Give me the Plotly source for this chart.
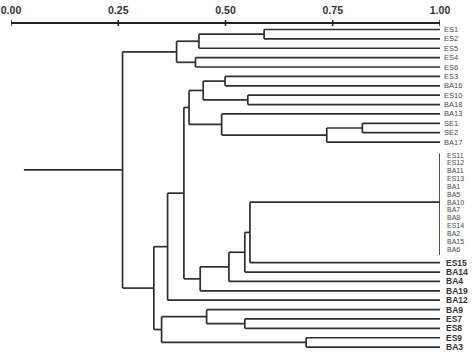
import plotly.graph_objects as go

# ---------------- data ----------------
top_leaves = ["ES1", "ES2", "ES5", "ES4", "ES6", "ES3", "BA16", "ES10",
              "BA18", "BA13", "SE1", "SE2", "BA17"]
identical_leaves = ["ES11", "ES12", "BA11", "ES13", "BA1", "BA5", "BA10",
                    "BA7", "BA8", "ES14", "BA2", "BA15", "BA6"]
bottom_leaves = ["ES15", "BA14", "BA4", "BA19", "BA12", "BA9", "ES7",
                 "ES8", "ES9", "BA3"]

# (node, left child, right child, similarity at merge)
merges = [
    ("A", "ES1", "ES2", 0.590),
    ("B", "A", "ES5", 0.438),
    ("C", "ES4", "ES6", 0.430),
    ("D", "B", "C", 0.386),
    ("E", "ES3", "BA16", 0.499),
    ("F", "ES10", "BA18", 0.552),
    ("G", "E", "F", 0.448),
    ("H", "SE1", "SE2", 0.819),
    ("I", "H", "BA17", 0.736),
    ("J", "BA13", "I", 0.491),
    ("K", "G", "J", 0.415),
    ("L", "IDENT", "ES15", 0.557),
    ("M", "L", "BA14", 0.545),
    ("N", "M", "BA4", 0.508),
    ("O", "N", "BA19", 0.441),
    ("P", "K", "O", 0.403),
    ("Q", "P", "BA12", 0.365),
    ("R", "ES7", "ES8", 0.545),
    ("S", "BA9", "R", 0.456),
    ("T", "ES9", "BA3", 0.688),
    ("U", "S", "T", 0.351),
    ("V", "Q", "U", 0.333),
    ("W", "D", "V", 0.260),
]
identical_sim = 1.00
root_start = 0.03

tick_vals = [0.00, 0.25, 0.50, 0.75, 1.00]
tick_text = ["0.00", "0.25", "0.50", "0.75", "1.00"]

# ---------------- layout of leaves (vertical positions) ----------------
ypos = {}
height = {}
for i, name in enumerate(top_leaves):
    ypos[name] = float(i)
    height[name] = 1.0
start_ident = ypos[top_leaves[-1]] + 1.38
ident_step = 0.8375
for j, name in enumerate(identical_leaves):
    ypos[name] = start_ident + j * ident_step
last_ident = ypos[identical_leaves[-1]]
ypos["IDENT"] = (ypos[identical_leaves[0]] + last_ident) / 2
height["IDENT"] = identical_sim
for k, name in enumerate(bottom_leaves):
    ypos[name] = last_ident + 1.43 + k
    height[name] = 1.0

xs, ys = [], []


def seg(x0, y0, x1, y1):
    xs.extend([x0, x1, None])
    ys.extend([y0, y1, None])


# bar of identical isolates
seg(identical_sim, ypos[identical_leaves[0]] - 0.18, identical_sim, last_ident + 0.61)

for node, left, right, sim in merges:
    ypos[node] = (ypos[left] + ypos[right]) / 2
    height[node] = sim
    seg(sim, ypos[left], sim, ypos[right])
    for child in (left, right):
        seg(sim, ypos[child], height[child], ypos[child])

root = merges[-1][0]
seg(root_start, ypos[root], height[root], ypos[root])

fig = go.Figure()
fig.add_trace(go.Scatter(
    x=xs, y=ys, mode="lines",
    line=dict(color="#2e2e2e", width=1.7),
    hoverinfo="skip", showlegend=False,
))

FONT = "Arial, 'Liberation Sans', sans-serif"
annotations = []
for name in top_leaves:
    annotations.append(dict(x=1.0, y=ypos[name], xref="x", yref="y", text=name,
                            showarrow=False, xanchor="left", yanchor="middle", xshift=2,
                            font=dict(family=FONT, size=7.5, color="#4a4a4a")))
for name in identical_leaves:
    annotations.append(dict(x=1.0, y=ypos[name], xref="x", yref="y", text=name,
                            showarrow=False, xanchor="left", yanchor="middle", xshift=5,
                            font=dict(family=FONT, size=7, color="#4a4a4a")))
for name in bottom_leaves:
    annotations.append(dict(x=1.0, y=ypos[name], xref="x", yref="y", text="<b>" + name + "</b>",
                            showarrow=False, xanchor="left", yanchor="middle", xshift=4,
                            font=dict(family=FONT, size=8.5, color="#333333")))

unit = 9.38
first_px = 29.5
top_margin = 20

# scale bar (axis line + tick marks) drawn just above the first leaf
bar_y = ypos[top_leaves[0]] - 6.5 / unit
shapes = [dict(type="line", xref="x", yref="y", x0=0, x1=1, y0=bar_y, y1=bar_y,
               line=dict(color="#222222", width=2))]
for tv in tick_vals:
    shapes.append(dict(type="line", xref="x", yref="y", ysizemode="pixel", yanchor=bar_y,
                       x0=tv, x1=tv, y0=-3, y1=3,
                       line=dict(color="#222222", width=1.5)))

fig.update_layout(
    width=474, height=358,
    margin=dict(l=11, r=34, t=top_margin, b=0, autoexpand=False),
    paper_bgcolor="white", plot_bgcolor="white",
    annotations=annotations,
    shapes=shapes,
    xaxis=dict(
        range=[0, 1], side="top", automargin=False,
        showline=False,
        ticks="outside", ticklen=1, tickcolor="rgba(0,0,0,0)",
        tickvals=tick_vals, ticktext=["<b>" + t + "</b>" for t in tick_text],
        tickfont=dict(family=FONT, size=10.5, color="#333333"),
        showgrid=False, zeroline=False, fixedrange=True,
    ),
    yaxis=dict(
        range=[(358 - first_px) / unit, (top_margin - first_px) / unit],
        visible=False, showgrid=False,
        zeroline=False, fixedrange=True, automargin=False,
    ),
)

fig.write_html(
    "out.html",
    config={"displayModeBar": False, "staticPlot": True},
    post_script="document.body.style.margin='0';",
)
